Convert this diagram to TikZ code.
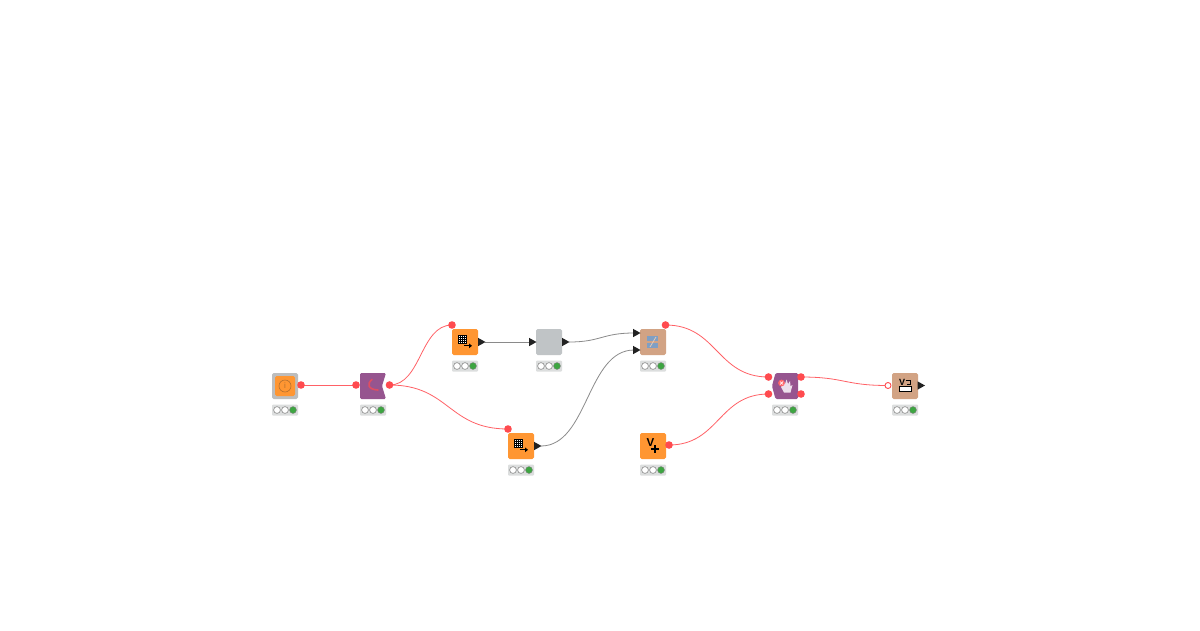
\documentclass[tikz,border=0pt]{standalone}
\usepackage{fontspec}
\setmainfont{Liberation Sans}
\usetikzlibrary{backgrounds,calc}
\definecolor{korange}{HTML}{FF9632}
\definecolor{kpurple}{HTML}{96558F}
\definecolor{ktan}{HTML}{D2A384}
\definecolor{kgray}{HTML}{C0C4C6}
\definecolor{kframe}{HTML}{BDBDBD}
\definecolor{kred}{HTML}{FF4B4F}
\definecolor{kflow}{HTML}{FF6166}
\definecolor{kstat}{HTML}{DCDEDE}
\definecolor{kgreen}{HTML}{3DA541}
\definecolor{kline}{HTML}{8A8A8A}
\definecolor{kdark}{HTML}{222222}
\definecolor{kiconb}{HTML}{B5702F}
\definecolor{kiconblue}{HTML}{7F9FC4}
\tikzset{
 box/.style={rectangle,rounded corners=1.6pt,minimum size=26pt,inner sep=0pt,draw=none,fill=#1},
 redport/.style={circle,fill=kred,draw=none,minimum size=7.6pt,inner sep=0pt},
 holeport/.style={circle,fill=white,draw=kred,line width=0.9pt,minimum size=6pt,inner sep=0pt},
 flow/.style={kflow,line width=0.8pt},
 data/.style={kline,line width=0.8pt},
 tri/.style={fill=kdark,draw=none},
 lamp/.style={circle,draw=kline,line width=0.6pt,fill=white,minimum size=6.8pt,inner sep=0pt},
 lampon/.style={circle,draw=kline,line width=0.4pt,fill=kgreen,minimum size=7pt,inner sep=0pt},
 statbar/.style={rectangle,rounded corners=1pt,fill=kstat,minimum width=26pt,minimum height=11pt,inner sep=0pt},
}
% status traffic light below a node: name, centre x, y
\newcommand{\statlight}[3]{%
 \node[statbar] (#1) at (#2,#3) {};
 \node[lamp] at ($(#1)+(-8,0)$) {};
 \node[lamp] at ($(#1)+(0,0)$) {};
 \node[lampon] at ($(#1)+(8,0)$) {};
}
% black data port triangle: base x, y; points right, 7 wide
\newcommand{\porttri}[2]{\fill[tri] (#1,#2-4.2) -- (#1+7.5,#2) -- (#1,#2+4.2) -- cycle;}
% table icon with arrow at centre
\newcommand{\tableicon}[2]{%
 \begin{scope}[shift={(#1,#2)}]
  \fill[white] (-6.8,-7) rectangle (1.6,1.4);
  \foreach \k in {0,1,2,3,4}{
   \draw[black,line width=0.4pt] (-6.8+2.1*\k,-7) -- (-6.8+2.1*\k,1.4);
   \draw[black,line width=0.4pt] (-6.8,-7+2.1*\k) -- (1.6,-7+2.1*\k);
  }
  \draw[black,line width=1pt] (-6.8,-7) -- (1.6,-7);
  \draw[black,line width=1pt] (-1,3.8) -- (5,3.8);
  \fill[black] (7,3.8) -- (4,1.4) -- (4,6.2) -- cycle;
 \end{scope}}
\begin{document}
\begin{tikzpicture}[x=1pt,y=-1pt]
\useasboundingbox (0,0) rectangle (1200,630);
% nodes
\node[box=kframe] (info) at (285,386) {};
\node[box=korange,minimum size=20pt] (infoin) at (285,386) {};
\draw[kiconb,line width=0.6pt] (285,386) circle (6);
\node[text=kiconb,font=\fontsize{8}{8}\selectfont,inner sep=0pt] (infot) at (285,386) {i};
\statlight{s1}{285}{410}

\path[fill=kpurple,rounded corners=1.4pt] (360,373) -- (386,373) -- (382,386) -- (386,399) -- (360,399) -- cycle;
\coordinate (purple) at (373,386);
\draw[kred!70!kpurple,line width=1.6pt,line cap=round] (372,379.5) .. controls (366.5,384) and (368,389.5) .. (378,390);
\statlight{s2}{373}{410}

\node[box=korange] (tab1) at (465,342) {};
\tableicon{465}{342}
\statlight{s3}{465}{366}

\node[box=kgray] (meta) at (549,342) {};
\statlight{s4}{549}{366}

\node[box=ktan] (conc) at (653,342) {};
\fill[kiconblue] (647,336) rectangle (658,341);
\fill[kiconblue] (647,343) rectangle (658,348);
\draw[ktan!60!white,line width=0.8pt] (650,347) -- (656,337);
\statlight{s5}{653}{366}

\node[box=korange] (tab2) at (521,446) {};
\tableicon{521}{446}
\statlight{s6}{521}{470}

\node[box=korange] (varn) at (653,446) {};
\node[font=\bfseries\fontsize{11.5}{11.5}\selectfont,inner sep=0pt] (vtext) at (650.5,443) {V};
\draw[black,line width=1.4pt] (651,449) -- (659,449) (655,445) -- (655,453);
\statlight{s7}{653}{470}

\path[fill=kpurple,rounded corners=1.4pt] (772,386) -- (775.5,373) -- (798,373) -- (798,399) -- (775.5,399) -- cycle;
\coordinate (inter) at (785,386);
\fill[white!82!kpurple] (782,384) -- (783.5,380.5) -- (785,384) -- (786.5,379.5) -- (788,384) -- (790,381) -- (790.5,386) -- (792.5,385) -- (790.5,392.5) -- (784,392.5) -- (781,387) -- cycle;
\fill[kred!85!white] (781.5,383) circle (3.4);
\draw[white,line width=0.7pt] (780,381.5) -- (783,384.5) (783,381.5) -- (780,384.5);
\statlight{s8}{785}{410}

\node[box=ktan] (vout) at (905,386) {};
\node[font=\bfseries\fontsize{9}{9}\selectfont,inner sep=0pt] (vtext2) at (902,382) {V};
\draw[black,line width=0.8pt] (906,380) -- (910,380) -- (910,384) -- (907,384);
\draw[black,line width=0.8pt,fill=white] (899,386.5) rectangle (911,391);
\statlight{s9}{905}{410}

% ports
\node[redport] (p1) at (301,385) {};
\node[redport] (p2) at (356,385) {};
\node[redport] (p3) at (389.5,385) {};
\node[redport] (p4) at (452,325) {};
\node[redport] (p5) at (508,429) {};
\node[redport] (p6) at (665.5,325) {};
\node[redport] (p7) at (669,445) {};
\node[redport] (p8) at (768.5,377) {};
\node[redport] (p9) at (768.5,394) {};
\node[redport] (p10) at (801,377) {};
\node[redport] (p11) at (801,394) {};
\node[holeport] (p12) at (888,385.5) {};
\porttri{478}{342} \coordinate (d1) at (485,342);
\porttri{529}{342} \coordinate (d2) at (530,342);
\porttri{562}{342} \coordinate (d3) at (569,342);
\porttri{633}{333} \coordinate (d4) at (634,333);
\porttri{633}{350} \coordinate (d5) at (634,350);
\porttri{534}{446} \coordinate (d6) at (541,446);
\porttri{917.5}{385.5}

% connectors
\begin{scope}[on background layer]
\fill[white] (0,0) rectangle (1200,630);
\draw[flow] (p1.center) -- (p2.center);
\draw[flow] (p3.center) .. controls +(32,0) and +(-32,0) .. (p4.center);
\draw[flow] (p3.center) .. controls +(60,0) and +(-60,0) .. (p5.center);
\draw[flow] (p6.center) .. controls +(52,0) and +(-52,0) .. (p8.center);
\draw[flow] (p7.center) .. controls +(50,0) and +(-50,0) .. (p9.center);
\draw[flow] (p10.center) .. controls +(44,0) and +(-44,0) .. (p12.center);
\draw[data] (d1) -- (d2);
\draw[data] (d3) .. controls +(32,0) and +(-32,0) .. (d4);
\draw[data] (d6) .. controls +(47,0) and +(-47,0) .. (d5);
\end{scope}
\end{tikzpicture}
\end{document}
